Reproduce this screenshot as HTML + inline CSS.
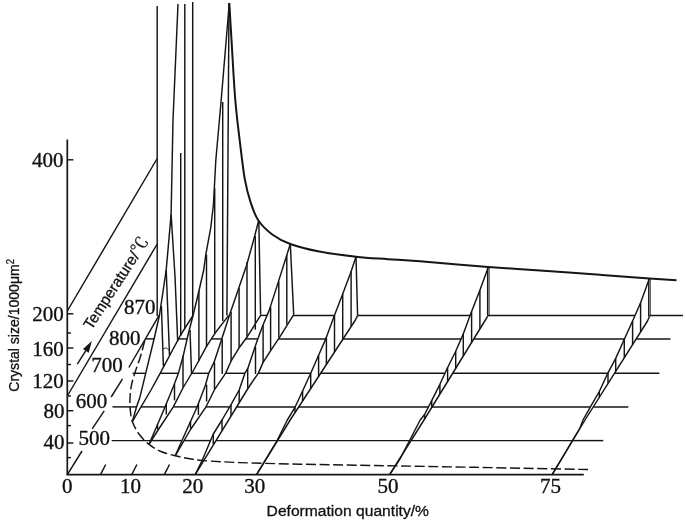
<!DOCTYPE html>
<html lang="en"><head><meta charset="utf-8"><title>Crystal size vs deformation quantity and temperature</title>
<style>
html,body{margin:0;padding:0;background:#fff;}
svg{display:block;}
svg line,svg polyline,svg path{stroke:#151515;fill:none;stroke-linecap:butt;stroke-linejoin:round;}
.n{font-family:"Liberation Serif","Times New Roman",serif;font-size:21px;fill:#111;stroke:#111;stroke-width:0.35px;}
.s{font-family:"Liberation Sans","DejaVu Sans",sans-serif;font-size:15.5px;fill:#111;stroke:#111;stroke-width:0.3px;}
.c{font-family:"Liberation Serif","Noto Serif CJK SC",serif;font-size:17px;}
</style></head><body>
<svg width="685" height="521" viewBox="0 0 685 521">
<rect width="685" height="521" fill="#fff"/>
<line x1="67.3" y1="139.6" x2="67.3" y2="474.6" stroke-width="1.7" />
<line x1="66.5" y1="474.6" x2="583.8" y2="474.6" stroke-width="1.7" />
<line x1="67.3" y1="159.8" x2="73.4" y2="159.8" stroke-width="1.45" />
<line x1="67.3" y1="313.8" x2="73.4" y2="313.8" stroke-width="1.45" />
<line x1="67.3" y1="348.0" x2="73.4" y2="348.0" stroke-width="1.45" />
<line x1="67.3" y1="381.0" x2="73.4" y2="381.0" stroke-width="1.45" />
<line x1="67.3" y1="410.7" x2="73.4" y2="410.7" stroke-width="1.45" />
<line x1="67.3" y1="443.0" x2="73.4" y2="443.0" stroke-width="1.45" />
<line x1="67.3" y1="333.0" x2="71.0" y2="333.0" stroke-width="1.45" />
<line x1="67.3" y1="364.5" x2="71.0" y2="364.5" stroke-width="1.45" />
<line x1="67.3" y1="396.0" x2="71.0" y2="396.0" stroke-width="1.45" />
<line x1="67.3" y1="425.6" x2="71.0" y2="425.6" stroke-width="1.45" />
<line x1="67.3" y1="457.6" x2="71.0" y2="457.6" stroke-width="1.45" />
<line x1="100.5" y1="474.6" x2="105.7" y2="464.5" stroke-width="1.45" />
<line x1="131.7" y1="474.6" x2="136.9" y2="464.5" stroke-width="1.45" />
<line x1="164.3" y1="474.6" x2="169.5" y2="464.5" stroke-width="1.45" />
<line x1="67.3" y1="311.0" x2="157.2" y2="158.5" stroke-width="1.45" />
<line x1="67.3" y1="396.0" x2="157.2" y2="244.0" stroke-width="1.45" />
<line x1="157.2" y1="6.0" x2="157.2" y2="316.0" stroke-width="1.45" />
<line x1="67.3" y1="474.6" x2="82.0" y2="451.0" stroke-width="1.45" />
<line x1="92.2" y1="428.8" x2="104.2" y2="410.8" stroke-width="1.45" />
<line x1="111.2" y1="397.0" x2="122.5" y2="378.8" stroke-width="1.45" />
<line x1="128.8" y1="367.5" x2="158.9" y2="315.7" stroke-width="1.45" />
<line x1="77.3" y1="364.1" x2="86.0" y2="350.3" stroke-width="1.45" />
<polygon points="91.8,340.9 83,349 88.7,352.7" fill="#151515" stroke="none"/>
<path d="M144.8,340.6 C144.0,343.5 141.6,352.9 140.0,358.0 C138.4,363.1 136.7,367.0 135.3,371.5 C133.9,376.0 132.4,380.6 131.5,385.0 C130.6,389.4 130.2,393.8 130.0,398.0 C129.8,402.2 129.9,406.1 130.3,410.0 C130.7,413.9 130.9,417.6 132.3,421.6 C133.8,425.6 136.2,430.2 139.0,434.0 C141.8,437.8 145.3,441.5 149.0,444.4 C152.7,447.3 156.6,449.6 161.0,451.5 C165.4,453.4 170.4,454.6 175.2,455.8 C180.0,457.0 185.3,458.0 190.0,458.8 C194.7,459.6 195.3,460.0 203.6,460.6 C211.9,461.2 223.9,462.0 240.0,462.6 C256.1,463.2 277.5,463.7 300.0,464.2 C322.5,464.7 345.8,465.0 375.0,465.5 C404.2,466.0 439.3,466.6 475.0,467.3 C510.7,468.0 570.0,469.2 589.0,469.6" stroke-width="1.45" stroke-dasharray="10 3.6"/>
<path d="M229.3,3.0 C229.7,9.2 230.5,23.8 231.5,40.0 C232.5,56.2 233.9,83.3 235.3,100.0 C236.7,116.7 238.1,127.1 239.7,140.3 C241.3,153.5 243.0,168.8 244.8,179.2 C246.6,189.6 248.4,195.7 250.7,202.6 C253.0,209.5 255.0,215.5 258.6,220.8 C262.2,226.2 267.3,230.8 272.6,234.7 C277.9,238.6 282.5,241.2 290.3,244.0 C298.1,246.8 308.4,249.5 319.3,251.6 C330.2,253.7 344.6,255.4 356.0,256.7 C367.4,258.0 377.3,258.4 388.0,259.2 C398.7,259.9 403.3,259.9 420.0,261.2 C436.7,262.5 468.1,265.4 488.1,266.9 C508.1,268.4 521.4,269.1 540.0,270.4 C558.6,271.7 581.8,273.5 600.0,274.8 C618.2,276.1 636.6,277.5 649.4,278.4 C662.1,279.3 672.0,280.0 676.5,280.3" stroke-width="2.0" />
<polyline points="132.3,421.6 136.5,407.0 140.0,396.9 145.8,372.9 155.0,335.0 159.4,315.5 162.5,295.0 166.2,270.0 171.1,214.6 173.0,120.0 178.0,4.0" stroke-width="1.45" />
<polyline points="132.3,421.6 151.0,390.0 160.4,372.9 180.6,335.0 193.0,315.5" stroke-width="1.45" />
<line x1="161.4" y1="306.0" x2="163.4" y2="366.3" stroke-width="1.45" />
<line x1="166.2" y1="270.0" x2="169.5" y2="355.0" stroke-width="1.45" />
<line x1="171.1" y1="214.6" x2="175.0" y2="276.0" stroke-width="1.45" />
<line x1="175.0" y1="276.0" x2="177.7" y2="341.2" stroke-width="1.45" />
<line x1="180.7" y1="153.0" x2="180.7" y2="336.0" stroke-width="1.45" />
<line x1="184.8" y1="4.0" x2="184.8" y2="328.5" stroke-width="1.45" />
<line x1="192.7" y1="2.0" x2="192.7" y2="316.0" stroke-width="1.45" />
<path d="M163.2,348.6 Q166.5,346.5 169.2,350.2" stroke-width="0.9" />
<polyline points="149.0,444.4 155.2,430.0 165.1,406.8 173.9,385.2 178.5,372.9 183.3,355.5 188.0,335.0 193.0,315.5 198.0,295.0 203.7,270.0 205.8,254.7 210.8,227.3 213.4,205.0 215.8,160.5 221.2,100.0 229.3,3.0" stroke-width="1.45" />
<polyline points="149.0,444.4 158.1,430.0 173.3,406.8 183.2,387.5 193.7,370.0 206.4,346.6 214.6,333.8 228.7,315.4" stroke-width="1.45" />
<line x1="157.5" y1="424.5" x2="157.5" y2="429.5" stroke-width="1.45" />
<line x1="166.3" y1="403.9" x2="166.3" y2="414.4" stroke-width="1.45" />
<line x1="174.5" y1="384.0" x2="174.5" y2="400.4" stroke-width="1.45" />
<line x1="183.0" y1="355.5" x2="183.0" y2="387.5" stroke-width="1.45" />
<line x1="190.0" y1="330.0" x2="191.5" y2="373.4" stroke-width="1.45" />
<line x1="198.9" y1="291.0" x2="198.9" y2="360.7" stroke-width="1.45" />
<line x1="206.5" y1="254.7" x2="206.5" y2="346.6" stroke-width="1.45" />
<line x1="214.7" y1="188.0" x2="214.7" y2="333.8" stroke-width="1.45" />
<line x1="222.7" y1="102.0" x2="222.7" y2="321.0" stroke-width="1.45" />
<line x1="229.0" y1="3.0" x2="226.9" y2="315.4" stroke-width="1.45" />
<polyline points="175.2,455.8 186.7,430.0 197.2,406.8 205.4,385.2 208.8,373.1 214.0,362.4 221.6,339.6 228.7,317.5 238.8,288.0 246.7,265.0 254.7,236.0 258.6,220.8" stroke-width="1.45" />
<polyline points="175.2,455.8 190.2,430.0 206.0,406.8 214.7,389.3 225.7,373.1 231.0,361.2 239.1,347.8 247.3,336.7 261.1,314.6" stroke-width="1.45" />
<line x1="190.5" y1="421.4" x2="190.5" y2="428.4" stroke-width="1.45" />
<line x1="198.4" y1="403.9" x2="198.4" y2="415.0" stroke-width="1.45" />
<line x1="206.6" y1="384.6" x2="206.6" y2="401.5" stroke-width="1.45" />
<line x1="214.5" y1="362.4" x2="214.5" y2="389.3" stroke-width="1.45" />
<line x1="222.2" y1="339.0" x2="222.2" y2="374.0" stroke-width="1.45" />
<line x1="231.1" y1="312.0" x2="231.1" y2="361.2" stroke-width="1.45" />
<line x1="239.1" y1="288.0" x2="239.1" y2="347.8" stroke-width="1.45" />
<line x1="247.0" y1="262.0" x2="247.0" y2="336.7" stroke-width="1.45" />
<line x1="255.3" y1="236.0" x2="255.3" y2="329.7" stroke-width="1.45" />
<line x1="258.8" y1="220.8" x2="260.6" y2="314.6" stroke-width="1.45" />
<polyline points="195.2,474.6 202.0,460.8 213.3,434.0 222.0,420.0 231.0,404.7 239.2,390.0 245.0,373.1 247.9,368.2 254.9,347.2 257.8,339.0 263.0,325.0 269.1,310.6 278.2,282.4 290.3,244.0" stroke-width="1.45" />
<polyline points="195.2,474.6 247.0,390.0 250.2,385.0 258.4,373.1 263.1,362.4 271.0,350.1 280.0,336.7 293.7,314.6" stroke-width="1.45" />
<line x1="213.3" y1="434.0" x2="213.3" y2="444.5" stroke-width="1.45" />
<line x1="222.0" y1="420.0" x2="222.0" y2="430.6" stroke-width="1.45" />
<line x1="231.0" y1="404.7" x2="231.0" y2="416.0" stroke-width="1.45" />
<line x1="239.2" y1="390.0" x2="239.2" y2="402.6" stroke-width="1.45" />
<line x1="247.7" y1="368.0" x2="247.7" y2="389.0" stroke-width="1.45" />
<line x1="255.5" y1="347.0" x2="255.5" y2="374.0" stroke-width="1.45" />
<line x1="263.1" y1="325.0" x2="263.1" y2="362.4" stroke-width="1.45" />
<line x1="270.6" y1="306.7" x2="270.6" y2="350.1" stroke-width="1.45" />
<line x1="278.8" y1="281.5" x2="278.8" y2="337.5" stroke-width="1.45" />
<line x1="286.8" y1="255.0" x2="286.8" y2="324.5" stroke-width="1.45" />
<line x1="290.3" y1="244.0" x2="293.7" y2="314.6" stroke-width="1.45" />
<polyline points="256.7,474.3 277.0,440.8 287.3,420.0 295.0,407.3 302.6,391.0 310.5,373.7 318.3,356.0 325.9,338.6 334.4,315.6 342.5,294.4 350.5,273.2 356.0,256.7" stroke-width="1.45" />
<polyline points="256.7,474.3 290.2,420.0 355.4,320.0 357.6,315.6" stroke-width="1.45" />
<line x1="295.0" y1="407.3" x2="295.0" y2="412.6" stroke-width="1.45" />
<line x1="302.6" y1="391.0" x2="302.6" y2="401.0" stroke-width="1.45" />
<line x1="310.7" y1="373.2" x2="310.7" y2="388.6" stroke-width="1.45" />
<line x1="318.6" y1="355.3" x2="318.6" y2="376.4" stroke-width="1.45" />
<line x1="326.4" y1="337.2" x2="326.4" y2="364.5" stroke-width="1.45" />
<line x1="334.5" y1="315.3" x2="334.5" y2="352.1" stroke-width="1.45" />
<line x1="342.7" y1="293.9" x2="342.7" y2="339.5" stroke-width="1.45" />
<line x1="351.1" y1="271.4" x2="351.1" y2="326.6" stroke-width="1.45" />
<line x1="356.0" y1="256.7" x2="357.6" y2="315.6" stroke-width="1.45" />
<polyline points="389.8,474.4 400.5,458.0 420.2,420.0 424.6,414.5 431.7,400.6 439.9,384.3 447.4,368.0 455.5,351.7 463.1,334.4 470.4,314.5 479.5,291.3 488.1,267.7" stroke-width="1.45" />
<polyline points="389.8,474.4 424.0,420.0 485.4,320.0 488.1,315.5" stroke-width="1.45" />
<line x1="424.6" y1="414.5" x2="424.6" y2="419.0" stroke-width="1.45" />
<line x1="431.7" y1="400.6" x2="431.7" y2="407.5" stroke-width="1.45" />
<line x1="439.9" y1="384.3" x2="439.9" y2="394.1" stroke-width="1.45" />
<line x1="447.6" y1="367.6" x2="447.6" y2="381.6" stroke-width="1.45" />
<line x1="455.7" y1="351.2" x2="455.7" y2="368.4" stroke-width="1.45" />
<line x1="463.3" y1="333.9" x2="463.3" y2="356.0" stroke-width="1.45" />
<line x1="471.6" y1="311.4" x2="471.6" y2="342.5" stroke-width="1.45" />
<line x1="479.9" y1="290.2" x2="479.9" y2="329.0" stroke-width="1.45" />
<line x1="487.5" y1="267.7" x2="487.5" y2="315.5" stroke-width="1.1" />
<line x1="489.0" y1="267.7" x2="489.0" y2="315.5" stroke-width="1.1" />
<polyline points="552.0,474.9 580.0,428.0 583.0,420.0 590.7,406.4 599.3,391.5 608.0,372.8 615.7,358.4 624.3,339.2 632.6,321.0 640.5,303.0 649.4,278.6" stroke-width="1.45" />
<polyline points="552.0,474.9 585.0,420.0 647.5,321.0 649.4,316.7" stroke-width="1.45" />
<line x1="599.3" y1="391.5" x2="599.3" y2="397.3" stroke-width="1.45" />
<line x1="608.0" y1="372.8" x2="608.0" y2="383.6" stroke-width="1.45" />
<line x1="615.7" y1="358.4" x2="615.7" y2="371.4" stroke-width="1.45" />
<line x1="624.3" y1="339.2" x2="624.3" y2="357.7" stroke-width="1.45" />
<line x1="632.6" y1="321.0" x2="632.6" y2="344.6" stroke-width="1.45" />
<line x1="640.6" y1="302.7" x2="640.6" y2="331.9" stroke-width="1.45" />
<line x1="648.6" y1="278.6" x2="648.6" y2="316.7" stroke-width="1.1" />
<line x1="650.1" y1="278.6" x2="650.1" y2="316.7" stroke-width="1.1" />
<line x1="260.6" y1="315.4" x2="267.1" y2="315.4" stroke-width="1.45" />
<line x1="293.2" y1="315.4" x2="334.5" y2="315.4" stroke-width="1.45" />
<line x1="357.6" y1="315.4" x2="470.1" y2="315.4" stroke-width="1.45" />
<line x1="488.1" y1="315.4" x2="635.1" y2="315.4" stroke-width="1.45" />
<line x1="649.4" y1="315.4" x2="683.0" y2="315.4" stroke-width="1.45" />
<line x1="145.0" y1="338.9" x2="154.1" y2="338.9" stroke-width="1.45" />
<line x1="178.5" y1="338.9" x2="187.1" y2="338.9" stroke-width="1.45" />
<line x1="211.3" y1="338.9" x2="221.8" y2="338.9" stroke-width="1.45" />
<line x1="245.7" y1="338.9" x2="257.8" y2="338.9" stroke-width="1.45" />
<line x1="278.5" y1="338.9" x2="325.8" y2="338.9" stroke-width="1.45" />
<line x1="343.1" y1="338.9" x2="461.1" y2="338.9" stroke-width="1.45" />
<line x1="473.8" y1="338.9" x2="624.4" y2="338.9" stroke-width="1.45" />
<line x1="636.2" y1="338.9" x2="670.5" y2="338.9" stroke-width="1.45" />
<line x1="132.5" y1="373.3" x2="145.7" y2="373.3" stroke-width="1.45" />
<line x1="160.2" y1="373.3" x2="178.4" y2="373.3" stroke-width="1.45" />
<line x1="191.7" y1="373.3" x2="208.7" y2="373.3" stroke-width="1.45" />
<line x1="225.6" y1="373.3" x2="244.9" y2="373.3" stroke-width="1.45" />
<line x1="258.3" y1="373.3" x2="310.7" y2="373.3" stroke-width="1.45" />
<line x1="320.6" y1="373.3" x2="445.0" y2="373.3" stroke-width="1.45" />
<line x1="452.7" y1="373.3" x2="607.8" y2="373.3" stroke-width="1.45" />
<line x1="614.5" y1="373.3" x2="659.4" y2="373.3" stroke-width="1.45" />
<line x1="112.5" y1="406.9" x2="136.5" y2="406.9" stroke-width="1.45" />
<line x1="141.0" y1="406.9" x2="165.1" y2="406.9" stroke-width="1.45" />
<line x1="173.2" y1="406.9" x2="197.2" y2="406.9" stroke-width="1.45" />
<line x1="205.9" y1="406.9" x2="229.7" y2="406.9" stroke-width="1.45" />
<line x1="236.7" y1="406.9" x2="295.2" y2="406.9" stroke-width="1.45" />
<line x1="298.7" y1="406.9" x2="428.5" y2="406.9" stroke-width="1.45" />
<line x1="432.0" y1="406.9" x2="590.4" y2="406.9" stroke-width="1.45" />
<line x1="593.3" y1="406.9" x2="628.3" y2="406.9" stroke-width="1.45" />
<line x1="111.7" y1="440.6" x2="150.6" y2="440.6" stroke-width="1.45" />
<line x1="151.4" y1="440.6" x2="182.0" y2="440.6" stroke-width="1.45" />
<line x1="184.0" y1="440.6" x2="210.5" y2="440.6" stroke-width="1.45" />
<line x1="216.0" y1="440.6" x2="277.1" y2="440.6" stroke-width="1.45" />
<line x1="277.5" y1="440.6" x2="409.5" y2="440.6" stroke-width="1.45" />
<line x1="411.0" y1="440.6" x2="572.5" y2="440.6" stroke-width="1.45" />
<line x1="572.6" y1="440.6" x2="603.3" y2="440.6" stroke-width="1.45" />
<text x="63.6" y="167.4" class="n" text-anchor="end" >400</text>
<text x="63.8" y="321.3" class="n" text-anchor="end" >200</text>
<text x="63.8" y="356.1" class="n" text-anchor="end" >160</text>
<text x="63.8" y="388.3" class="n" text-anchor="end" >120</text>
<text x="64.6" y="417.9" class="n" text-anchor="end" >80</text>
<text x="64.6" y="449.4" class="n" text-anchor="end" >40</text>
<text x="67.3" y="493.2" class="n" text-anchor="middle" >0</text>
<text x="130.6" y="493.2" class="n" text-anchor="middle" >10</text>
<text x="192.8" y="493.2" class="n" text-anchor="middle" >20</text>
<text x="254.7" y="493.2" class="n" text-anchor="middle" >30</text>
<text x="388.0" y="493.2" class="n" text-anchor="middle" >50</text>
<text x="550.5" y="493.2" class="n" text-anchor="middle" >75</text>
<text x="124.0" y="313.8" class="n" text-anchor="start" >870</text>
<text x="109.0" y="345.0" class="n" text-anchor="start" >800</text>
<text x="91.2" y="372.3" class="n" text-anchor="start" >700</text>
<text x="75.8" y="407.5" class="n" text-anchor="start" >600</text>
<text x="78.6" y="445.4" class="n" text-anchor="start" >500</text>
<text x="266.6" y="515.7" class="s" text-anchor="start" textLength="162.4" lengthAdjust="spacingAndGlyphs">Deformation quantity/%</text>
<text class="s" transform="translate(19,391.7) rotate(-90)" textLength="132.7" lengthAdjust="spacingAndGlyphs">Crystal size/1000μm<tspan dy="-5" font-size="10.5">2</tspan></text>
<text class="s" transform="translate(91.5,330.5) rotate(-57)"><tspan textLength="89" lengthAdjust="spacingAndGlyphs">Temperature/</tspan><tspan class="c" dx="0">℃</tspan></text>
</svg>
</body></html>
